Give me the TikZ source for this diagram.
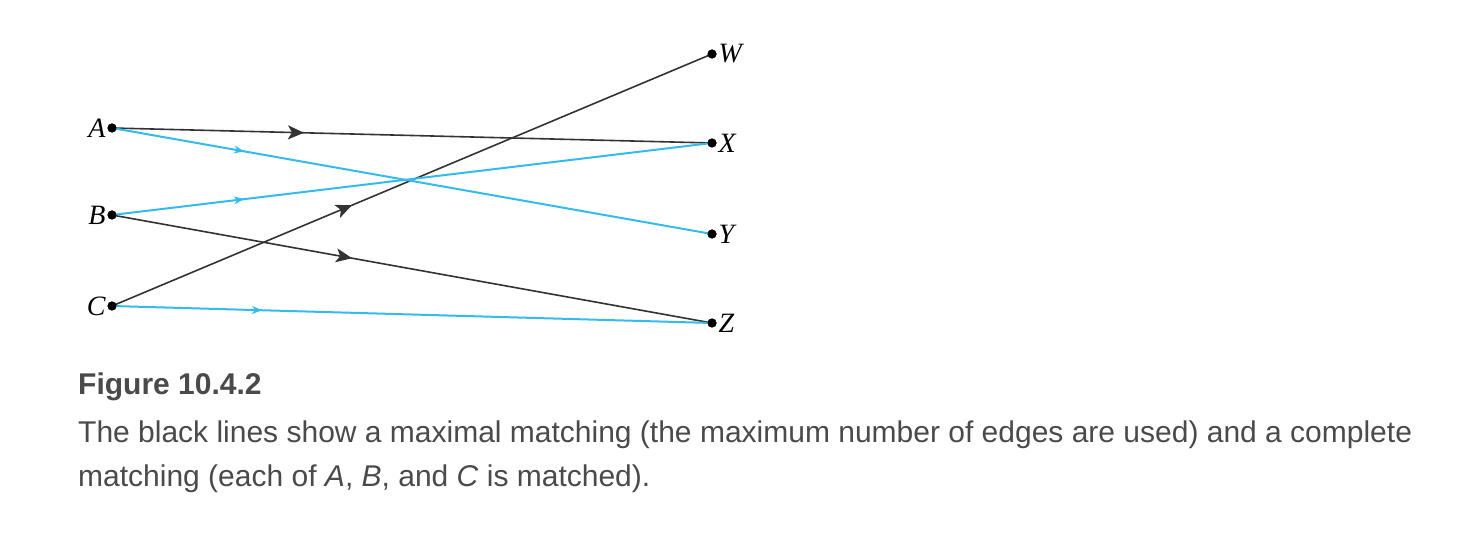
\documentclass[tikz,border=0pt]{standalone}
\usepackage{fontspec}
\setmainfont{Liberation Serif}
\newfontfamily\capfont{Liberation Sans}
\usetikzlibrary{decorations.markings,arrows.meta}
\definecolor{bl}{HTML}{33BBEE}
\definecolor{ink}{HTML}{333333}
\definecolor{capgray}{HTML}{4A4A4A}
\tikzset{
  dot/.style={circle,fill=black,inner sep=0pt,minimum size=9pt},
  lab/.style={font=\fontsize{28}{28}\selectfont\itshape},
  blk/.style={draw=ink,line width=1.6pt},
  blu/.style={draw=bl,line width=2pt},
}
\begin{document}
\begin{tikzpicture}[x=1pt,y=-1pt]
\useasboundingbox (0,0) rectangle (1464,534);
\node[dot] (A) at (112,128) {};
\node[dot] (B) at (112,215) {};
\node[dot] (C) at (112,306) {};
\node[dot] (W) at (712,54) {};
\node[dot] (X) at (712,143) {};
\node[dot] (Y) at (712,234) {};
\node[dot] (Z) at (712,323) {};
\node[lab,left=3pt] (la) at (A) {A};
\node[lab,left=3pt] (lb) at (B) {B};
\node[lab,left=3pt] (lc) at (C) {C};
\node[lab,right=3pt] (lw) at (W) {W};
\node[lab,right=3pt] (lx) at (X) {X};
\node[lab,right=3pt] (ly) at (Y) {Y};
\node[lab,right=3pt] (lz) at (Z) {Z};
\begin{scope}[decoration={markings,mark=at position 0.32 with {\arrow{Stealth[length=16pt,width=14pt,inset=4pt]}}}]
\draw[blk,postaction={decorate}] (A.center) -- (X.center);
\end{scope}
\begin{scope}[decoration={markings,mark=at position 0.4 with {\arrow{Stealth[length=16pt,width=14pt,inset=4pt]}}}]
\draw[blk,postaction={decorate}] (B.center) -- (Z.center);
\draw[blk,postaction={decorate}] (C.center) -- (W.center);
\end{scope}
\begin{scope}[decoration={markings,mark=at position 0.22 with {\arrow[bl]{Stealth[length=10pt,width=8pt]}}}]
\draw[blu,postaction={decorate}] (A.center) -- (Y.center);
\draw[blu,postaction={decorate}] (B.center) -- (X.center);
\end{scope}
\begin{scope}[decoration={markings,mark=at position 0.25 with {\arrow[bl]{Stealth[length=10pt,width=8pt]}}}]
\draw[blu,postaction={decorate}] (C.center) -- (Z.center);
\end{scope}
\node[dot] at (A) {};\node[dot] at (B) {};\node[dot] at (C) {};
\node[dot] at (X) {};\node[dot] at (Y) {};\node[dot] at (Z) {};\node[dot] at (W) {};
\node[anchor=base west,inner sep=0pt,font=\capfont\fontsize{30}{30}\selectfont\bfseries,text=capgray] (fig) at (78,395) {Figure 10.4.2};
\node[anchor=base west,inner sep=0pt,font=\capfont\fontsize{30}{30}\selectfont,text=capgray] (c1) at (78,442) {The black lines show a maximal matching (the maximum number of edges are used) and a complete};
\node[anchor=base west,inner sep=0pt,font=\capfont\fontsize{30}{30}\selectfont,text=capgray] (c2) at (78,486) {matching (each of \textit{A}, \textit{B}, and \textit{C} is matched).};
\end{tikzpicture}
\end{document}
